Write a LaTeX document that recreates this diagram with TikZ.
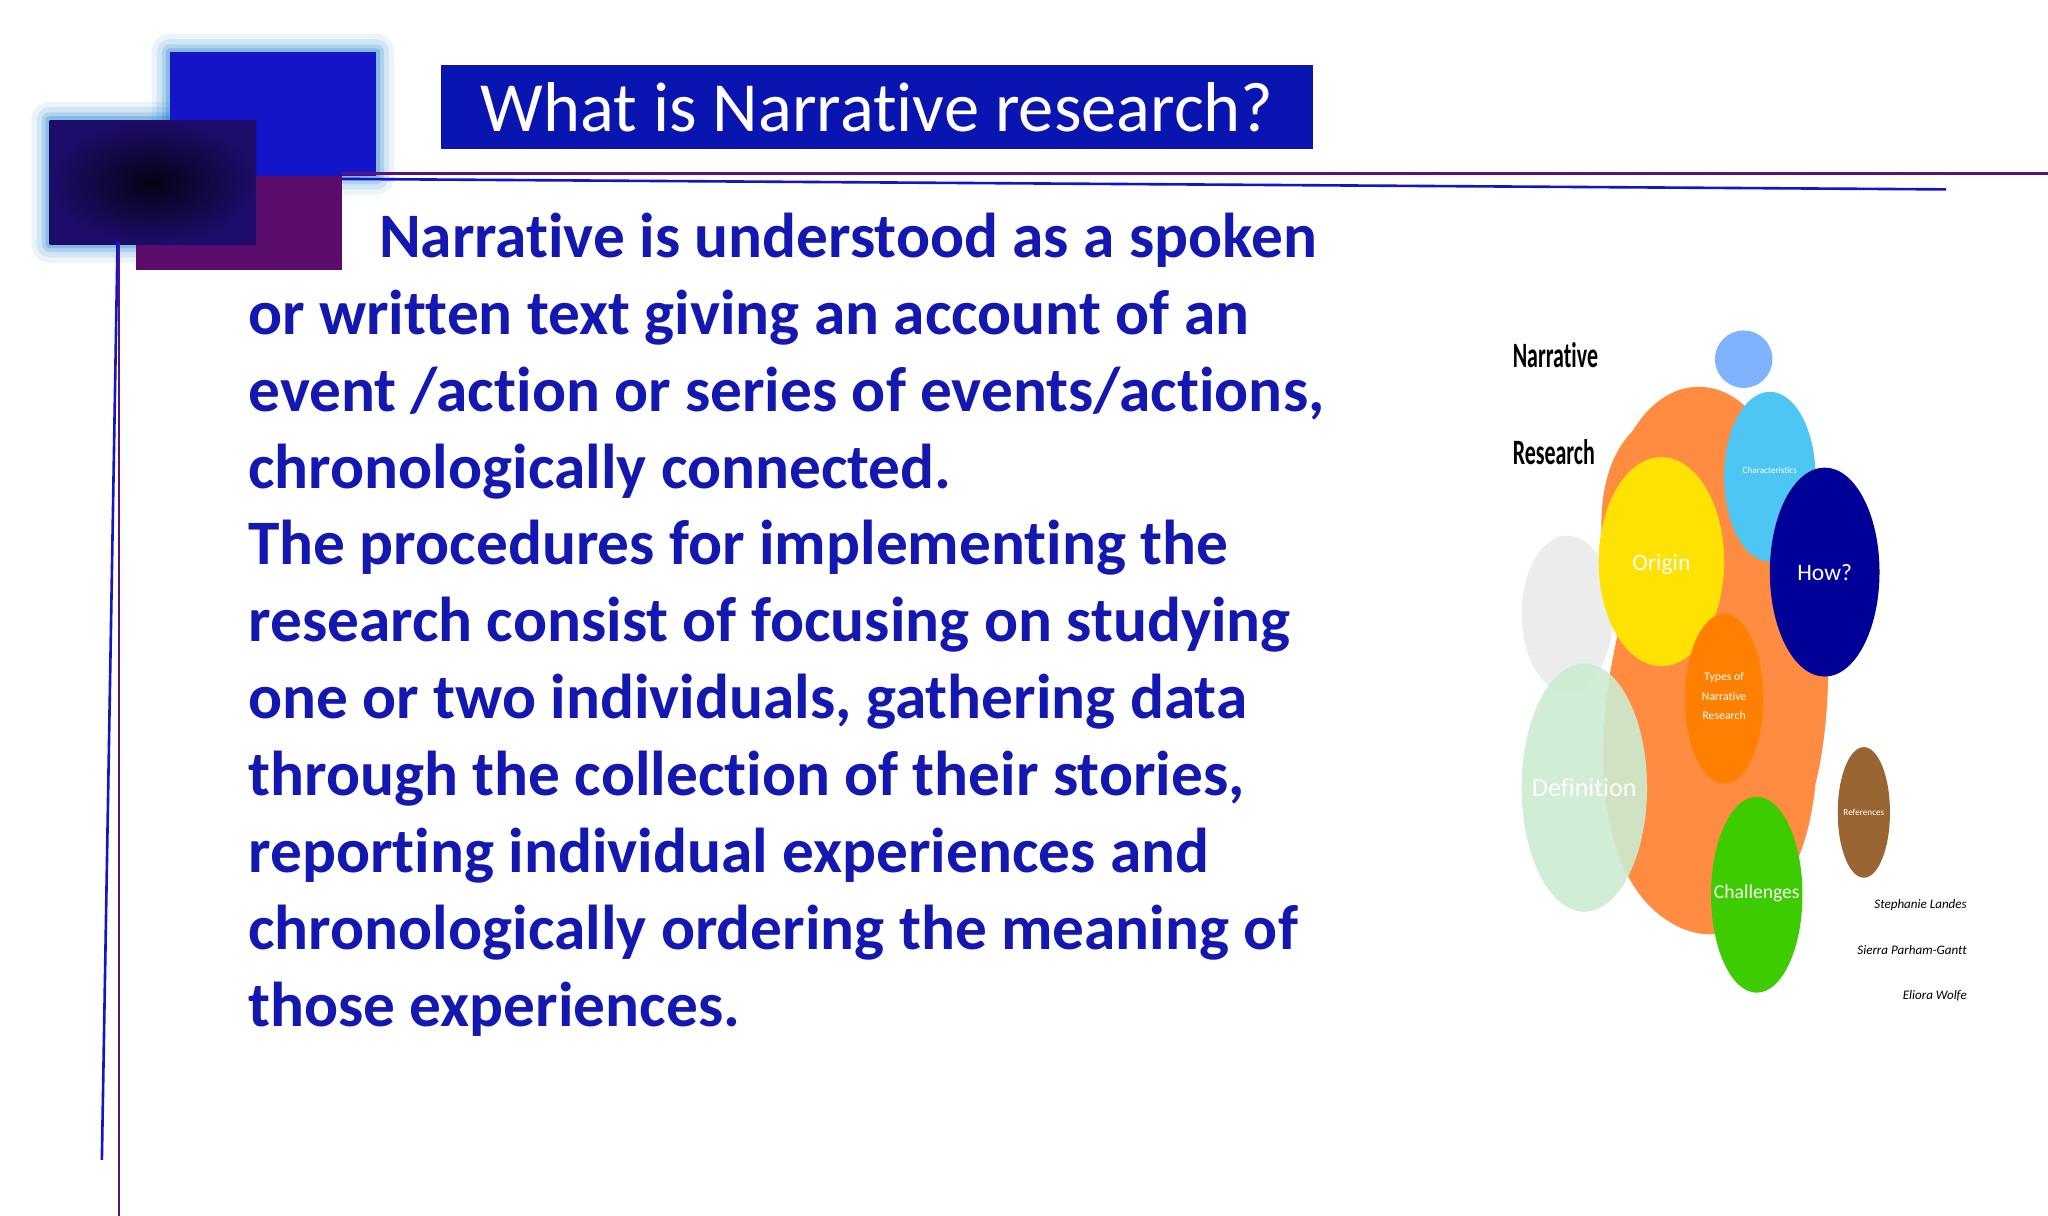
\documentclass[tikz,border=0pt]{standalone}
\usepackage{fontspec}
\setmainfont[Ligatures=NoCommon]{Carlito}
\begin{document}
\begin{tikzpicture}[x=1pt,y=-1pt,
  body/.style={anchor=base west,inner sep=0pt,text=bodyblue,font=\fontsize{48.5}{50}\selectfont\bfseries},
  lbl/.style={inner sep=0pt,text=white,font=\fontsize{10}{11}\selectfont},
  names/.style={inner sep=0pt,anchor=east,font=\fontsize{10}{11}\selectfont\itshape}]
\definecolor{bodyblue}{HTML}{1218B0}
\definecolor{titleblue}{HTML}{0A14B0}
\definecolor{sqblue}{HTML}{1414C8}
\definecolor{sqnavy}{HTML}{1E0C6A}
\definecolor{sqpurple}{HTML}{5A0C6C}
\definecolor{lnpurple}{HTML}{5A1478}
\useasboundingbox (0,0) rectangle (1568,931);
\fill[white] (0,0) rectangle (1568,931);
% glows
\foreach \w/\o in {14/0.08,10/0.12,6/0.18,3/0.25}{
  \fill[cyan!60!blue,opacity=\o,rounded corners=\w] (130-\w,40-\w) rectangle (288+\w,135+\w);
  \fill[cyan!60!blue,opacity=\o,rounded corners=\w] (38-\w,92-\w) rectangle (196+\w,187+\w);
}
\fill[sqpurple] (104,135) rectangle (262,207);
\fill[sqblue] (130,40) rectangle (288,135);
\fill[sqnavy] (38,92) rectangle (196,187);
\shade[inner color=black!80!sqnavy,outer color=sqnavy] (38,92) rectangle (196,187);
% lines
\coordinate (h1a) at (262,133); \coordinate (h1b) at (1568,133);
\coordinate (h2a) at (262,137); \coordinate (h2b) at (1490,145);
\coordinate (v1a) at (91,185); \coordinate (v1b) at (91,931);
\coordinate (v2a) at (90,185); \coordinate (v2b) at (78,888);
\draw[lnpurple,line width=2pt] (h1a) -- (h1b);
\draw[sqblue,line width=2pt] (h2a) -- (h2b);
\draw[lnpurple,line width=2pt] (v1a) -- (v1b);
\draw[sqblue,line width=2pt] (v2a) -- (v2b);
% title
\node[fill=titleblue,text=white,minimum width=667pt,minimum height=64pt,inner sep=0pt,
  font=\fontsize{54}{56}\selectfont] (title) at (671.5,82) {What is Narrative research?};
% body
\node[body] (l1) at (290,197) {Narrative is understood as a spoken};
\node[body] (l2) at (190,256) {or written text giving an account of an};
\node[body] (l3) at (190,315) {event /action or series of events/actions,};
\node[body] (l4) at (190,374) {chronologically connected.};
\node[body] (l5) at (190,432) {The procedures for implementing the};
\node[body] (l6) at (190,491) {research consist of focusing on studying};
\node[body] (l7) at (190,550) {one or two individuals, gathering data};
\node[body] (l8) at (190,609) {through the collection of their stories,};
\node[body] (l9) at (190,668) {reporting individual experiences and};
\node[body] (l10) at (190,727) {chronologically ordering the meaning of};
\node[body] (l11) at (190,786) {those experiences.};
% picture
\fill[orange!80!red,opacity=0.75] (1250,330) .. controls (1280,280) and (1330,290) .. (1350,330)
  .. controls (1400,380) and (1410,520) .. (1390,600) .. controls (1380,700) and (1320,740) .. (1270,700)
  .. controls (1220,660) and (1220,560) .. (1240,480) .. controls (1220,420) and (1220,360) .. (1250,330);
\fill[blue!60!cyan,opacity=0.5] (1335,275) circle[x radius=22,y radius=22];
\fill[gray!20,opacity=0.7] (1200,470) circle[x radius=35,y radius=60];
\fill[cyan!10!green!20,opacity=0.9] (1213,603) ellipse[x radius=48,y radius=95];
\fill[yellow!85!orange] (1272,430) ellipse[x radius=48,y radius=80];
\fill[cyan!70!white] (1355,365) ellipse[x radius=35,y radius=65];
\fill[blue!60!black] (1397,438) ellipse[x radius=42,y radius=80];
\fill[orange] (1320,535) ellipse[x radius=30,y radius=65];
\fill[brown!80!black] (1427,622) ellipse[x radius=20,y radius=50];
\fill[green!60!lime!80!black] (1345,685) ellipse[x radius=35,y radius=75];
\node[lbl,font=\fontsize{20}{22}\selectfont] (d) at (1213,603) {Definition};
\node[lbl,font=\fontsize{18}{20}\selectfont] (o) at (1272,432) {Origin};
\node[lbl,font=\fontsize{7}{8}\selectfont] (c) at (1355,360) {Characteristics};
\node[lbl,font=\fontsize{18}{20}\selectfont] (h) at (1397,438) {How?};
\node[lbl,align=center,font=\fontsize{9}{15}\selectfont] (t) at (1320,533) {Types of\\Narrative\\Research};
\node[lbl,font=\fontsize{7}{8}\selectfont] (r) at (1427,622) {References};
\node[lbl,font=\fontsize{15}{16}\selectfont] (ch) at (1345,684) {Challenges};
\node[anchor=west,inner sep=0pt,font=\fontsize{21}{22}\selectfont\bfseries] (n1) at (1158,272) {\scalebox{0.8}[1.3]{Narrative}};
\node[anchor=west,inner sep=0pt,font=\fontsize{21}{22}\selectfont\bfseries] (n2) at (1158,346) {\scalebox{0.8}[1.3]{Research}};
\node[names] (a1) at (1506,693) {Stephanie Landes};
\node[names] (a2) at (1506,727) {Sierra Parham-Gantt};
\node[names] (a3) at (1506,762) {Eliora Wolfe};
\end{tikzpicture}
\end{document}
